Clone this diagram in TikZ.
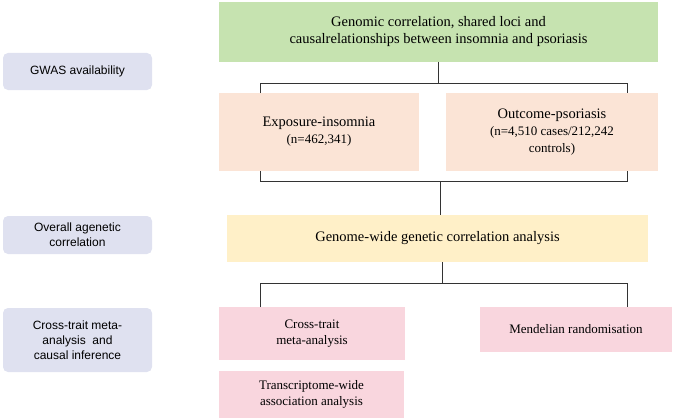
\documentclass[tikz,border=0pt]{standalone}
\usepackage{fontspec}
\setmainfont{Liberation Serif}
\newfontfamily\lsans{Liberation Sans}
\begin{document}
\begin{tikzpicture}[x=1pt,y=-1pt,
 box/.style={draw=none,inner sep=0pt,align=center,font=\fontsize{14.5}{17}\selectfont},
 lab/.style={fill=lav,rounded corners=5pt,inner sep=0pt,align=center,font=\lsans\fontsize{12}{15}\selectfont},
 ln/.style={draw=black!80,line width=0.8pt}]
\definecolor{lav}{HTML}{DFE1F0}
\definecolor{grn}{HTML}{C6E3B0}
\definecolor{pch}{HTML}{FBE4D6}
\definecolor{ylw}{HTML}{FFF0C8}
\definecolor{pnk}{HTML}{F9D6DE}
\useasboundingbox (0,0) rectangle (685,420);
\fill[grn] (219,2) rectangle (658,62);
\node[box] (g) at (438.5,32) {Genomic correlation, shared loci and\\causalrelationships between insomnia and psoriasis};
\fill[pch] (219,93) rectangle (419,171);
\node[box] (e) at (319,132) {Exposure-insomnia\\{\fontsize{13}{17}\selectfont(n=462,341)}};
\fill[pch] (446,93) rectangle (658,171);
\node[box] (o) at (552,132) {Outcome-psoriasis\\{\fontsize{13}{17}\selectfont(n=4,510 cases/212,242}\\{\fontsize{13}{17}\selectfont controls)}};
\fill[ylw] (227,215) rectangle (648,262);
\node[box] (y) at (437.5,238.5) {Genome-wide genetic correlation analysis};
\fill[pnk] (219,307) rectangle (405,360);
\node[box,font=\fontsize{13}{16}\selectfont] (c) at (312,333.5) {Cross-trait\\meta-analysis};
\fill[pnk] (480,307) rectangle (672,352);
\node[box,font=\fontsize{13}{16}\selectfont] (m) at (576,329.5) {Mendelian randomisation};
\fill[pnk] (219,371) rectangle (404,418);
\node[box,font=\fontsize{13}{16}\selectfont] (t) at (311.5,394.5) {Transcriptome-wide\\association analysis};
\node[lab,minimum width=149pt,minimum height=37pt] (l1) at (77.5,71.5) {GWAS availability};
\node[lab,minimum width=149pt,minimum height=38pt] (l2) at (77.5,235) {Overall agenetic\\correlation};
\node[lab,minimum width=149pt,minimum height=64pt] (l3) at (77.5,340) {Cross-trait meta-\\analysis\ \ and\\causal inference};
\coordinate (b1) at (438,83);
\coordinate (b2) at (440,181);
\coordinate (b3) at (442,283);
\draw[ln] (438,62) -- (b1);
\draw[ln] (260,93) -- (260,83) -- (627,83) -- (627,93);
\draw[ln] (260,171) -- (260,181) -- (627,181) -- (627,171);
\draw[ln] (b2) -- (440,215);
\draw[ln] (442,262) -- (b3);
\draw[ln] (260,307) -- (260,283) -- (627,283) -- (627,307);
\end{tikzpicture}
\end{document}
